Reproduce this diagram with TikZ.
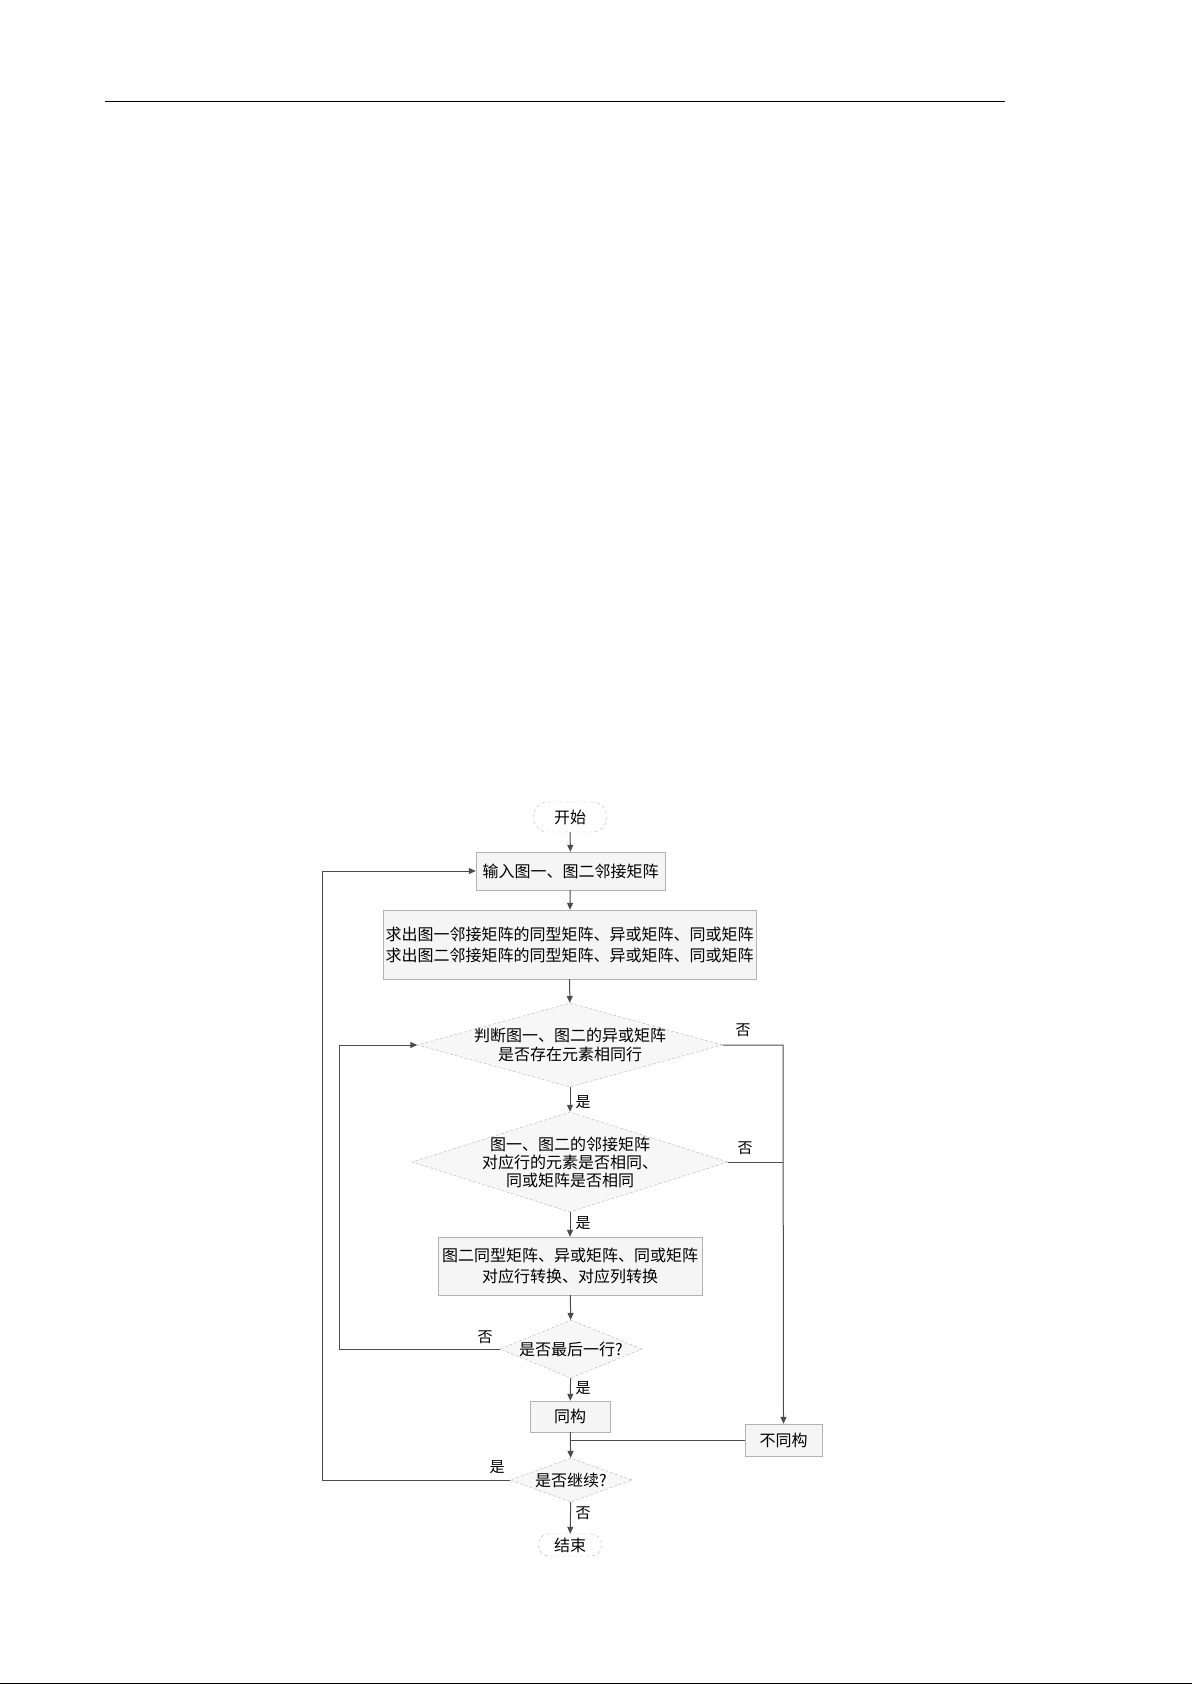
\documentclass[tikz,border=0pt]{standalone}
\usepackage{fontspec}
\setmainfont{Noto Sans CJK SC}
\usetikzlibrary{shapes.geometric,arrows.meta}
\begin{document}
\begin{tikzpicture}[x=1pt,y=-1pt,
  every node/.style={font=\fontsize{16}{21}\selectfont},
  box/.style={draw=gray!60,fill=gray!8,inner sep=0pt,align=center},
  term/.style={draw=gray!60,dashed,fill=white,rounded corners=14pt,inner sep=0pt},
  dia/.style={diamond,draw=gray!60,densely dashed,fill=gray!6,inner sep=0pt,align=center},
  ln/.style={draw=black!70,line width=1pt},
  arr/.style={ln,-{Triangle[length=7pt,width=6pt]}},
  lab/.style={font=\fontsize{15}{16}\selectfont}]
\useasboundingbox (0,0) rectangle (1192,1685);
\draw[line width=0.8pt] (105,101) -- (1005,101);
\node[term,minimum width=73,minimum height=30] (start) at (570,817) {开始};
\node[box,minimum width=189,minimum height=38] (in) at (570.5,871) {输入图一、图二邻接矩阵};
\node[box,minimum width=373,minimum height=69] (calc) at (569.5,944.5) {求出图一邻接矩阵的同型矩阵、异或矩阵、同或矩阵\\求出图二邻接矩阵的同型矩阵、异或矩阵、同或矩阵};
\node[dia,minimum width=305,minimum height=84,aspect=3.63] (d1) at (570,1045) {};
\node[align=center] at (570,1045) {判断图一、图二的异或矩阵\\[-2pt]是否存在元素相同行};
\node[dia,minimum width=316,minimum height=100,aspect=3.16] (d2) at (570,1162) {};
\node[align=center] at (570,1162) {图一、图二的邻接矩阵\\[-3pt]对应行的元素是否相同、\\[-3pt]同或矩阵是否相同};
\node[box,minimum width=264,minimum height=58] (conv) at (570,1266) {图二同型矩阵、异或矩阵、同或矩阵\\对应行转换、对应列转换};
\node[dia,minimum width=142,minimum height=58,aspect=2.45] (d3) at (571,1349) {};
\node at (571,1349) {是否最后一行?};
\node[box,minimum width=80,minimum height=31] (iso) at (570,1416.5) {同构};
\node[box,minimum width=77,minimum height=32] (niso) at (783.5,1440) {不同构};
\node[dia,minimum width=122,minimum height=44,aspect=2.77] (d4) at (571,1480) {};
\node at (571,1480) {是否继续?};
\node[term,minimum width=63,minimum height=22,rounded corners=10pt] (end) at (570,1545) {结束};
\draw[arr] (start) -- (in);
\draw[arr] (in) -- (calc);
\draw[arr] (calc) -- (d1);
\draw[arr] (d1) -- (d2);
\draw[arr] (d2) -- (conv);
\draw[arr] (conv) -- (d3);
\draw[arr] (d3) -- (iso);
\draw[arr] (iso) -- (d4);
\draw[arr] (d4) -- (end);
\coordinate (r1) at (783,1045);
\draw[arr] (d1.east) -- (r1) -- (niso.north);
\draw[ln] (d2.east) -- (783,1162);
\draw[ln] (niso.west) -- (570,1440);
\draw[arr] (d3.west) -- (339,1349) -- (339,1045) -- (d1.west);
\draw[arr] (d4.west) -- (322,1480) -- (322,871) -- (in.west);
\node[lab] at (743,1030) {否};
\node[lab] at (745,1148) {否};
\node[lab] at (583,1102) {是};
\node[lab] at (583,1223) {是};
\node[lab] at (485,1337) {否};
\node[lab] at (583,1388) {是};
\node[lab] at (497,1467) {是};
\node[lab] at (583,1513) {否};
\draw[line width=0.8pt] (0,1683) -- (1192,1683);
\end{tikzpicture}
\end{document}
